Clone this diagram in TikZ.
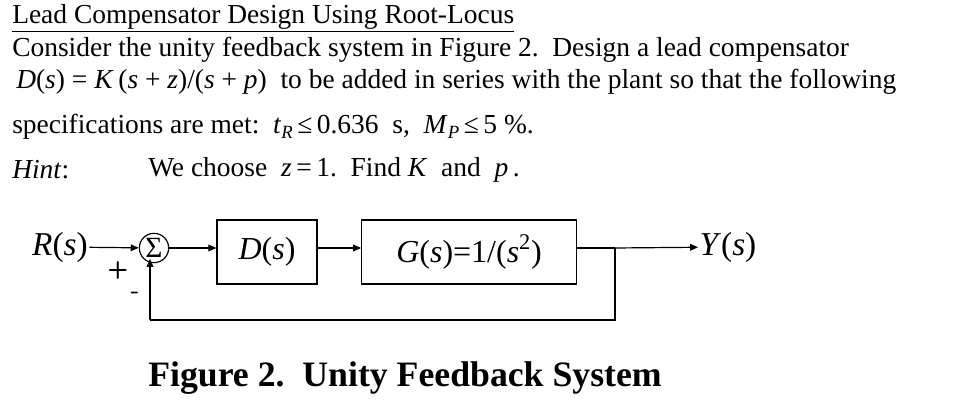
\documentclass[tikz,border=0pt]{standalone}
\usepackage{fontspec}
\setmainfont{Liberation Serif}
\usetikzlibrary{arrows.meta}
\newcommand{\iv}[1]{\textit{#1}}
\begin{document}
\begin{tikzpicture}[x=0.75pt,y=-0.75pt,
 txt/.style={anchor=west,inner sep=0,font=\fontsize{20.6}{23}\selectfont},
 blk/.style={draw,line width=0.9pt,minimum height=48pt,inner sep=0,font=\fontsize{24}{26}\selectfont},
 sig/.style={font=\fontsize{25}{27}\selectfont,inner sep=1pt},
 con/.style={line width=0.9pt,-{Triangle[length=6pt,width=5pt]}},
 ln/.style={line width=0.9pt}]
\useasboundingbox (0,0) rectangle (957,409);
\node[txt] (t1) at (12,18) {\underline{Lead Compensator Design Using Root-Locus}};
\node[txt] (t2) at (12,50) {Consider the unity feedback system in Figure 2.\ \ Design a lead compensator};
\node[txt] (t3) at (16,82) {\iv{D}(\iv{s}) = \iv{K}\,(\iv{s} + \iv{z})/(\iv{s} + \iv{p})\ \ to be added in series with the plant so that the following};
\node[txt] (t4) at (12,127) {specifications are met:\ \ \iv{t}\raisebox{-0.35ex}{\fontsize{14}{15}\selectfont\iv{R}}\,≤\,0.636\ \ s,\ \ \iv{M}\raisebox{-0.35ex}{\fontsize{14}{15}\selectfont\iv{P}}\,≤\,5\ \%.};
\node[txt] (t5) at (12,170) {\textit{Hint}:};
\node[txt] (t6) at (148,170) {We choose\ \ \iv{z}\,=\,1.\ \ Find \iv{K}\ \ and\ \ \iv{p}\,.};
\node[sig] (r) at (60,247) {\iv{R}(\iv{s})};
\node[draw,circle,line width=0.9pt,minimum size=22pt,inner sep=0,font=\fontsize{22}{24}\selectfont] (sum) at (154,248) {Σ};
\node[blk,minimum width=75pt] (d) at (267,252) {\iv{D}(\iv{s})};
\node[blk,minimum width=161pt] (g) at (469,252) {\iv{G}(\iv{s})=1/(\iv{s}\textsuperscript{2})};
\node[sig] (y) at (728,247) {\iv{Y}(\iv{s})};
\coordinate (b) at (615,248);
\coordinate (c1) at (615,320);
\coordinate (c2) at (150,320);
\draw[con] (r) -- (sum);
\draw[con] (sum) -- (d.west|-sum);
\draw[con] (d.east|-sum) -- (g.west|-sum);
\draw[ln] (g.east|-sum) -- (b);
\draw[con] (b) -- (y);
\draw[ln] (b) -- (c1) -- (c2);
\draw[con] (c2) -- (sum.south west-|c2);
\node[font=\sffamily\bfseries\fontsize{18}{19}\selectfont] (plus) at (118,271) {+};
\node[font=\sffamily\bfseries\fontsize{18}{19}\selectfont] (minus) at (135,295) {-};
\node[font=\bfseries\fontsize{26.8}{29}\selectfont,inner sep=0] (cap) at (405,378) {Figure 2.\ \ Unity Feedback System};
\end{tikzpicture}
\end{document}
